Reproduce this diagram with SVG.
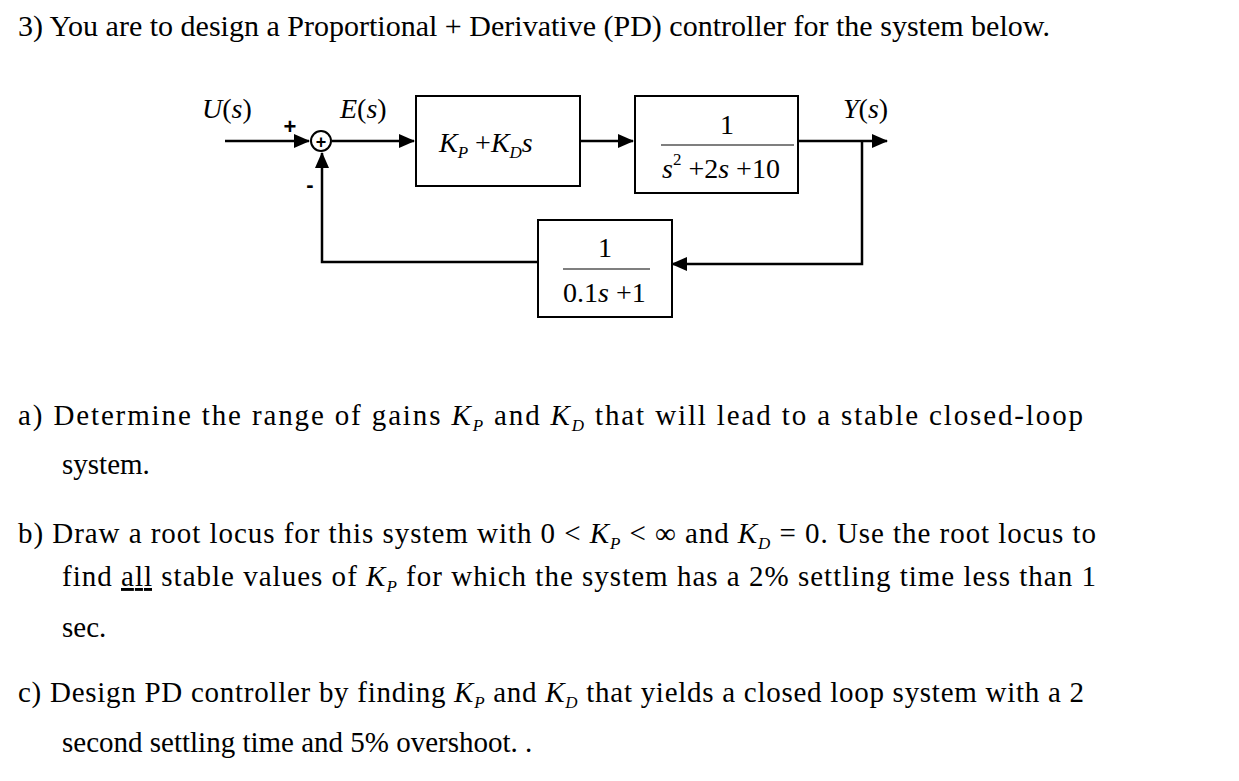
<svg xmlns="http://www.w3.org/2000/svg" width="1239" height="781" viewBox="0 0 1239 781">
<style>
text{font-family:"Liberation Serif",serif;fill:#000}
.t{font-size:29px}
.m{font-size:28px;font-style:italic}
.n{font-size:28px}
.b{fill:#fff;stroke:#000;stroke-width:2}
.c{fill:none;stroke:#000;stroke-width:2.5}
</style>
<defs><marker id="ah" markerWidth="16" markerHeight="14" refX="15" refY="7" orient="auto" markerUnits="userSpaceOnUse"><path d="M0,0L16,7L0,14z"/></marker></defs>
<text class="t" x="18" y="36" textLength="1032" lengthAdjust="spacingAndGlyphs">3)  You are to design a Proportional + Derivative (PD) controller for the system below.</text>
<g id="connectors">
<path class="c" d="M225,141H309" marker-end="url(#ah)"/>
<path class="c" d="M332,141H414" marker-end="url(#ah)"/>
<path class="c" d="M580,141H633" marker-end="url(#ah)"/>
<path class="c" d="M798,141H887" marker-end="url(#ah)"/>
<path class="c" d="M862,141V264H672" marker-end="url(#ah)"/>
<path class="c" d="M538,262H322V153" marker-end="url(#ah)"/>
</g>
<g id="sum"><circle cx="321" cy="141" r="10" fill="#fff" stroke="#000" stroke-width="2"/><text x="321" y="148" text-anchor="middle" style="font-family:'Liberation Sans',sans-serif;font-size:18px;font-weight:bold">+</text>
<text x="290" y="134" text-anchor="middle" style="font-family:'Liberation Sans',sans-serif;font-size:22px;font-weight:bold">+</text>
<text x="310" y="192" text-anchor="middle" style="font-family:'Liberation Sans',sans-serif;font-size:22px;font-weight:bold">-</text></g>
<g id="labels"><text x="202" y="118" class="n"><tspan font-style="italic">U</tspan>(<tspan font-style="italic">s</tspan>)</text>
<text x="340" y="118" class="n"><tspan font-style="italic">E</tspan>(<tspan font-style="italic">s</tspan>)</text>
<text x="843" y="118" class="n"><tspan font-style="italic">Y</tspan>(<tspan font-style="italic">s</tspan>)</text></g>
<g id="controller"><rect class="b" x="416" y="96" width="164" height="90"/>
<text x="439" y="152" class="n"><tspan font-style="italic">K</tspan><tspan font-size="17" font-style="italic" dy="6">P</tspan><tspan dy="-6"> +</tspan><tspan font-style="italic">K</tspan><tspan font-size="17" font-style="italic" dy="6">D</tspan><tspan font-style="italic" dy="-6">s</tspan></text></g>
<g id="plant"><rect class="b" x="635" y="96" width="163" height="97"/>
<text class="n" x="727" y="134" text-anchor="middle">1</text><line x1="661" y1="145" x2="794" y2="145" stroke="#000" stroke-width="1.2"/>
<text x="662" y="178" class="n"><tspan font-style="italic">s</tspan><tspan font-size="17" dy="-13">2</tspan><tspan dy="13"> +2</tspan><tspan font-style="italic">s</tspan><tspan> +10</tspan></text></g>
<g id="feedback"><rect class="b" x="538" y="220" width="134" height="97"/>
<text class="n" x="605" y="257" text-anchor="middle">1</text><line x1="563" y1="269" x2="650" y2="269" stroke="#000" stroke-width="1.2"/>
<text x="563" y="302" class="n">0.1<tspan font-style="italic">s</tspan> +1</text></g>
<g id="questions">
<text class="t" x="18" y="425" textLength="1065" lengthAdjust="spacing">a)  Determine the range of gains <tspan font-style="italic">K</tspan><tspan font-size="17" font-style="italic" dy="6">P</tspan><tspan dy="-6"> and </tspan><tspan font-style="italic">K</tspan><tspan font-size="17" font-style="italic" dy="6">D</tspan><tspan dy="-6"> that will lead to a stable closed-loop</tspan></text>
<text class="t" x="62" y="474">system.</text>
<text class="t" x="18" y="543" textLength="1078" lengthAdjust="spacing">b)  Draw a root locus for this system with 0 &lt; <tspan font-style="italic">K</tspan><tspan font-size="17" font-style="italic" dy="6">P</tspan><tspan dy="-6"> &lt; ∞  and </tspan><tspan font-style="italic">K</tspan><tspan font-size="17" font-style="italic" dy="6">D</tspan><tspan dy="-6"> = 0.  Use the root locus to</tspan></text>
<text class="t" x="62" y="586" textLength="1034" lengthAdjust="spacing">find <tspan text-decoration="underline">all</tspan> stable values of <tspan font-style="italic">K</tspan><tspan font-size="17" font-style="italic" dy="6">P</tspan><tspan dy="-6">  for which the system has a 2%  settling time less than 1</tspan></text>
<text class="t" x="62" y="637">sec.</text>
<text class="t" x="18" y="702" textLength="1066" lengthAdjust="spacing">c)  Design PD controller by finding <tspan font-style="italic">K</tspan><tspan font-size="17" font-style="italic" dy="6">P</tspan><tspan dy="-6"> and </tspan><tspan font-style="italic">K</tspan><tspan font-size="17" font-style="italic" dy="6">D</tspan><tspan dy="-6"> that yields a closed loop system with a 2</tspan></text>
<text class="t" x="62" y="752">second settling time and 5% overshoot.  .</text>
</g>
</svg>
